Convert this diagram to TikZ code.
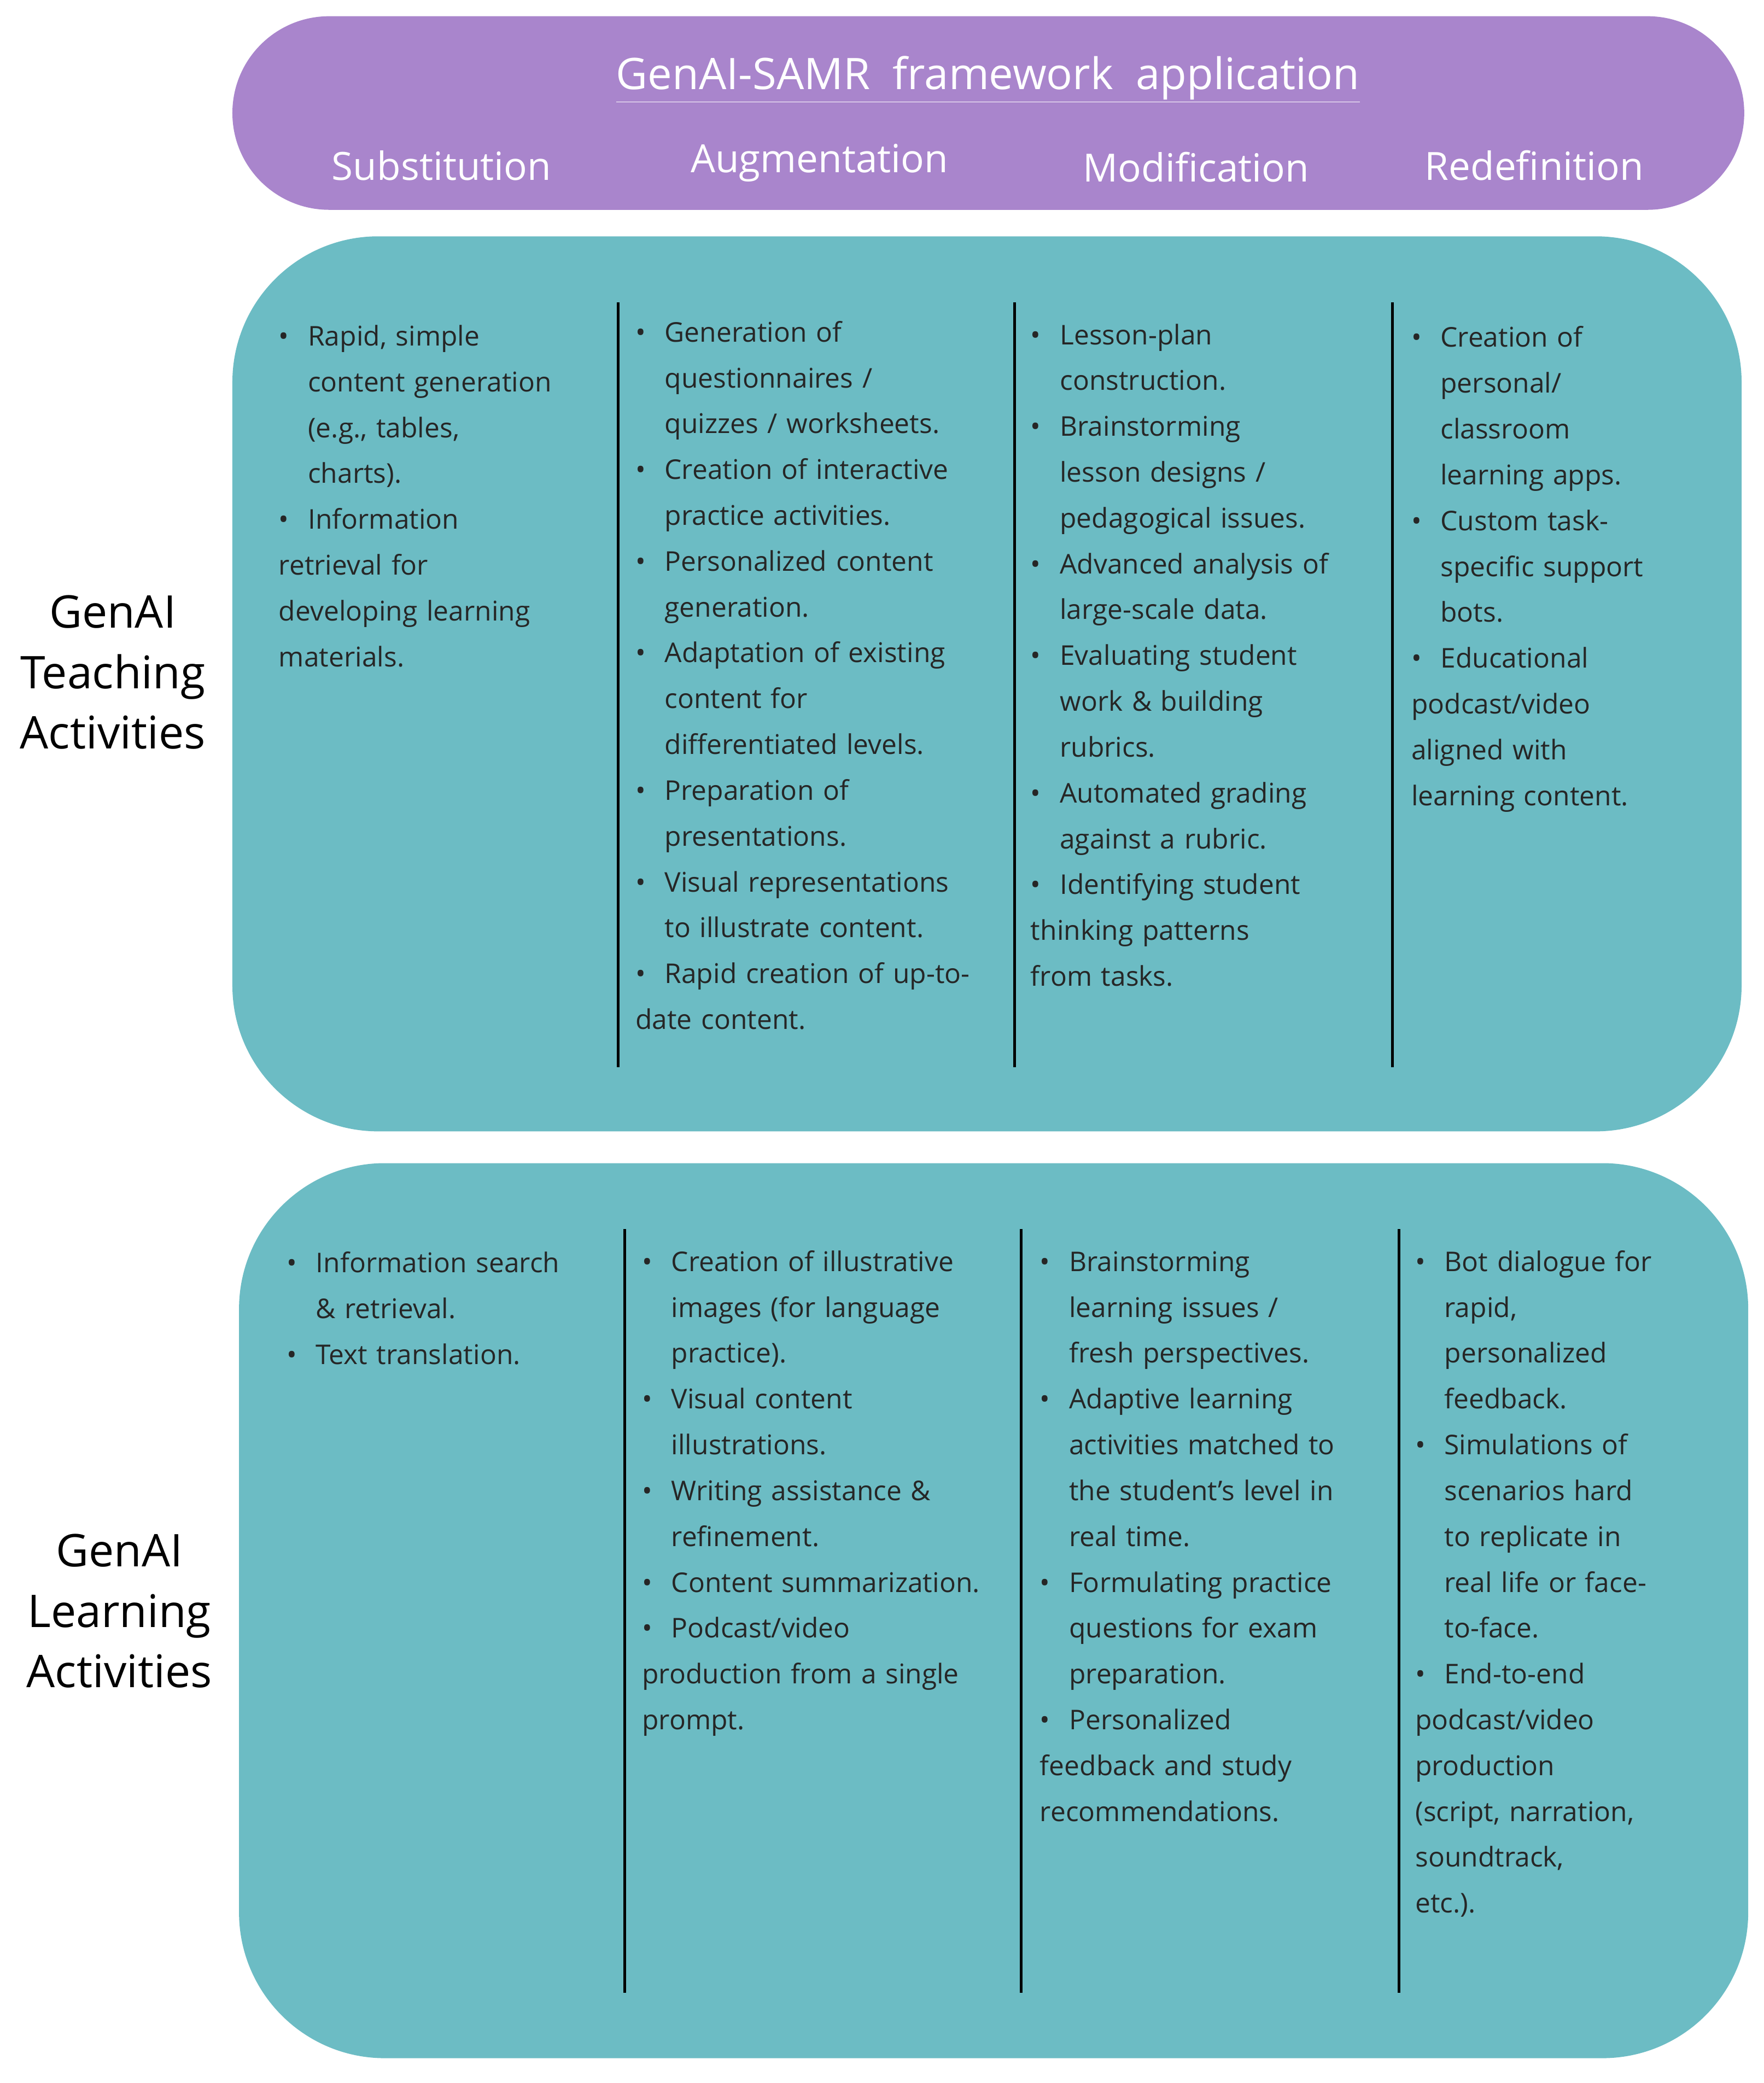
\documentclass[tikz,border=0pt]{standalone}
\usepackage{fontspec}
\setmainfont{Open Sans}
\definecolor{purp}{HTML}{A985CC}
\definecolor{teal1}{HTML}{6CBCC4}
\newcommand{\bl}[1]{\par\hangindent=0.66cm\hangafter=1\noindent\makebox[0.66cm][l]{\textbullet}#1}
\tikzset{
 panel/.style={fill=teal1,draw=none,rounded corners=3.3cm},
 divider/.style={line width=1.8pt,black},
 col/.style={anchor=north west,inner sep=0pt,text width=9.5cm,font=\fontsize{17.5}{29.5}\selectfont,color=black!85},
 head/.style={white,font=\fontsize{25}{30}\selectfont},
 side/.style={align=center,font=\fontsize{29}{39}\selectfont}
}
\begin{document}
\begin{tikzpicture}[x=0.03cm,y=-0.03cm]
\useasboundingbox (0,0) rectangle (1330,1571);
\node[fill=purp,rounded corners=2.19cm,minimum width=34.2cm,minimum height=4.38cm,anchor=north west,inner sep=0] (hdr) at (175,12) {};
\node[white,font=\fontsize{28}{32}\selectfont] (title) at (745,60) {\underline{GenAI-SAMR\ \ framework\ \ application}};
\node[head] (hs) at (333,125) {Substitution};
\node[head] (ha) at (618,123) {Augmentation};
\node[head] (hm) at (902,126) {Modification};
\node[head] (hr) at (1157,125) {Redefinition};

\node[panel,minimum width=34.14cm,minimum height=20.25cm,anchor=north west,inner sep=0] (p1) at (175,178) {};
\node[panel,minimum width=34.14cm,minimum height=20.25cm,anchor=north west,inner sep=0] (p2) at (180,877) {};

\foreach \x in {466,765,1050} \draw[divider] (\x,228) -- (\x,805);
\foreach \x in {471,770,1055} \draw[divider] (\x,927) -- (\x,1503);

\node[side] (s1) at (85,507) {GenAI\\Teaching\\Activities};
\node[side] (s2) at (90,1215) {GenAI\\Learning\\Activities};

\node[col] (c11) at (210,226) {\bl{Rapid, simple\newline content generation\newline (e.g., tables,\newline charts).}\bl{Information\newline retrieval for\newline developing learning\newline materials.}};
\node[col] (c12) at (479,223) {\bl{Generation of\newline questionnaires /\newline quizzes\ / worksheets.}\bl{Creation of interactive\newline practice activities.}\bl{Personalized content\newline generation.}\bl{Adaptation of existing\newline content for\newline differentiated levels.}\bl{Preparation of\newline presentations.}\bl{Visual representations\newline to illustrate content.}\bl{Rapid creation of up-to-\newline date content.}};
\node[col] (c13) at (777,225) {\bl{Lesson-plan\newline construction.}\bl{Brainstorming\newline lesson designs /\newline pedagogical issues.}\bl{Advanced analysis of\newline large-scale data.}\bl{Evaluating student\newline work \& building\newline rubrics.}\bl{Automated grading\newline against a rubric.}\bl{Identifying student\newline thinking patterns\newline from tasks.}};
\node[col] (c14) at (1064,227) {\bl{Creation of\newline personal/\newline classroom\newline learning apps.}\bl{Custom task-\newline specific support\newline bots.}\bl{Educational\newline podcast/video\newline aligned with\newline learning content.}};

\node[col] (c21) at (216,925) {\bl{Information search\newline \& retrieval.}\bl{Text translation.}};
\node[col] (c22) at (484,924) {\bl{Creation of illustrative\newline images (for language\newline practice).}\bl{Visual content\newline illustrations.}\bl{Writing assistance \&\newline refinement.}\bl{Content summarization.}\bl{Podcast/video\newline production from a single\newline prompt.}};
\node[col] (c23) at (784,924) {\bl{Brainstorming\newline learning issues /\newline fresh perspectives.}\bl{Adaptive learning\newline activities matched to\newline the student's level in\newline real time.}\bl{Formulating practice\newline questions for exam\newline preparation.}\bl{Personalized\newline feedback and study\newline recommendations.}};
\node[col] (c24) at (1067,924) {\bl{Bot dialogue for\newline rapid,\newline personalized\newline feedback.}\bl{Simulations of\newline scenarios hard\newline to replicate in\newline real life or face-\newline to-face.}\bl{End-to-end\newline podcast/video\newline production\newline (script, narration,\newline soundtrack,\newline etc.).}};
\end{tikzpicture}
\end{document}
